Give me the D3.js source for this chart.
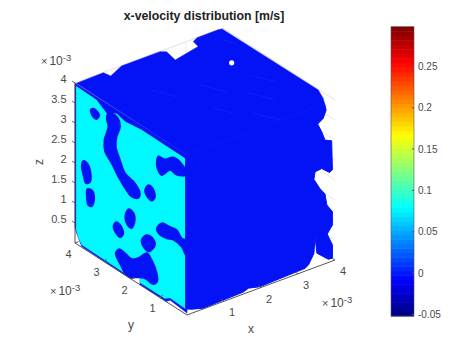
<!DOCTYPE html>
<html>
<head>
<meta charset="utf-8">
<script src="https://d3js.org/d3.v7.min.js"></script>
<style>
  html, body { margin: 0; padding: 0; background: #fff; }
  text { font-family: "Liberation Sans", Arial, sans-serif; fill: #4a4a4a; }
</style>
</head>
<body>
<div id="chart"></div>
<script>
// axis ticks, all lengths are in units of 1e-3
var xTicks = [1, 2, 3, 4];
var yTicks = [1, 2, 3, 4];
var zTicks = [0.5, 1, 1.5, 2, 2.5, 3, 3.5, 4];
var barTicks = [-0.05, 0, 0.05, 0.1, 0.15, 0.2, 0.25];
var barRange = [-0.052, 0.298];

// jet colormap stops (fraction of colour range -> colour)
var jetStops = [0, 0.125, 0.375, 0.625, 0.875, 1];
var jetColors = ["#00007f", "#0000ff", "#00ffff", "#ffff00", "#ff0000", "#7f0000"];
var jetSteps = d3.range(64);

// top face (z = 4), [x, y]
var topFace = [[0.02,3.97],[0.76,3.99],[0.80,3.78],[1.25,3.99],[2.29,3.99],[2.40,3.90],[2.33,3.50],[3.08,3.67],
    [3.13,3.91],[3.30,4.0],[3.87,4.0],[3.96,3.98],[3.98,0.57],[3.84,0.21],[3.72,0],[0,0]];
var topHole = [3.22, 2.66];
// faint lighter streaks on the top face, [x1, y1, x2, y2]
var topStreaks = [[2.25,0.62,2.53,0.04],[2.09,2.29,2.37,1.70],[3.68,3.58,3.82,3.29],[1.10,2.77,1.38,2.18],
    [2.70,1.40,2.98,0.82],[3.20,2.00,3.48,1.42],[1.70,1.30,1.90,0.90]];

// front right face (y = 0), [x, z]
var rightFace = [[0,4],[3.72,4],[3.76,3.83],[3.68,3.65],[3.53,3.56],[3.64,3.33],[3.73,3.09],[3.91,3.01],[3.93,2.28],
    [3.85,2.24],[3.64,2.41],[3.46,2.39],[3.43,2.21],[3.59,1.93],[3.73,1.74],[3.78,1.45],[3.93,1.23],[3.93,0.90],
    [3.79,0.72],[3.93,0.40],[3.93,0.07],[3.82,0.08],[3.51,0.34],[3.46,0.77],[3.43,0.36],[3.28,0.12],[3.19,0.07],
    [1.97,0.03],[1.66,0.10],[1.52,0.05],[0.44,0.02],[0.13,0.10],[0,0.15]];

// left face (x = 0), [y, z]
var leftBlue = [[4,4],[0,4],[0,0.05],[0.6,0.1],[0.75,0],[1.68,0],[1.68,0.19],[2.04,0],[3.76,0.02],[3.89,0.2],[3.96,0.3],[4,0.4]];
var leftCyan = [[3.96,3.94],[3.23,3.93],[2.87,3.75],[2.51,3.91],[2.21,3.84],[1.62,3.90],[0.07,3.89],[0.07,0.18],[0.05,0.13],
    [0.61,0.15],[0.79,0.05],[1.68,0.05],[1.68,0.19],[2.04,0.04],[3.76,0.06],[3.89,0.20],[3.96,0.34]];

// low velocity patches on the left face, [y, z]
var leftBlobs = [
    [[3.44,3.58],[3.32,3.66],[3.13,3.59],[3.23,3.44],[3.35,3.44]],
    [[2.81,3.78],[2.51,3.83],[2.39,3.63],[2.51,3.33],[2.54,3.07],[2.39,2.80],[2.21,2.55],[1.86,2.46],[1.68,2.29],[1.74,2.14],
     [1.98,2.07],[2.21,2.17],[2.45,2.35],[2.69,2.58],[2.93,2.77],[2.95,3.05],[2.81,3.44],[2.87,3.63]],
    [[1.03,3.50],[0.79,3.54],[0.49,3.72],[0.25,3.72],[0.05,3.59],[0.05,3.47],[0.37,3.34],[0.61,3.35],[0.90,3.09],[1.06,3.19],[1.08,3.35]],
    [[3.70,2.19],[3.56,2.19],[3.44,2.00],[3.46,1.77],[3.61,1.67],[3.70,1.83],[3.76,2.03]],
    [[3.56,1.55],[3.40,1.59],[3.31,1.44],[3.40,1.19],[3.53,1.16],[3.58,1.34]],
    [[1.38,2.63],[1.23,2.62],[1.14,2.44],[1.26,2.29],[1.42,2.32],[1.50,2.45]],
    [[2.10,1.70],[1.94,1.71],[1.86,1.54],[1.98,1.28],[2.13,1.29],[2.21,1.46]],
    [[2.54,1.18],[2.39,1.18],[2.27,1.02],[2.39,0.87],[2.57,0.93],[2.63,1.03]],
    [[1.44,1.35],[1.23,1.37],[1.14,1.24],[1.35,0.98],[1.56,1.01],[1.62,1.15]],
    [[1.08,1.68],[0.90,1.89],[0.61,1.93],[0.37,1.96],[0.19,1.83],[0.04,1.84],[0.04,1.47],[0.19,1.62],[0.49,1.66],[0.72,1.59],[0.96,1.57]],
    [[2.42,0.56],[2.21,0.55],[1.98,0.51],[1.74,0.64],[1.44,0.90],[1.26,0.81],[1.08,0.56],[1.06,0.37],[1.20,0.23],[1.50,0.24],
     [1.68,0.18],[2.04,0.03],[2.21,0.05],[2.39,0.20],[2.55,0.40]]
];

var width = 474, height = 355;

// oblique projection of the box, one scale per screen shift
var origin = [187, 315];
var xToSx = d3.scaleLinear().domain([0, 4]).range([0, 148]);
var xToSy = d3.scaleLinear().domain([0, 4]).range([0, -55]);
var yToSx = d3.scaleLinear().domain([0, 4]).range([0, -112]);
var yToSy = d3.scaleLinear().domain([0, 4]).range([0, -72]);
var zToSy = d3.scaleLinear().domain([0, 4]).range([0, -160]);

function project(x, y, z) {
    return [origin[0] + xToSx(x) + yToSx(y), origin[1] + xToSy(x) + yToSy(y) + zToSy(z)];
}

var polyLine = d3.line();
var blobLine = d3.line().curve(d3.curveCatmullRomClosed.alpha(0.5));

var svg = d3.select("#chart").append("svg")
    .attr("width", width)
    .attr("height", height)
    .style("display", "block");

// grid on the back walls
var grid = svg.append("g").attr("stroke", "#e4e4e4").attr("stroke-width", 0.8).attr("fill", "none");
function gridLine(a, b) {
    grid.append("path").attr("d", polyLine([a, b]));
}
zTicks.forEach(function (z) {
    gridLine(project(0, 4, z), project(4, 4, z));
    gridLine(project(4, 4, z), project(4, 0, z));
});
xTicks.forEach(function (x) {
    gridLine(project(x, 4, 0), project(x, 4, 4));
});
yTicks.forEach(function (y) {
    gridLine(project(4, y, 0), project(4, y, 4));
});
gridLine(project(0, 4, 4), project(4, 4, 4));
gridLine(project(4, 4, 4), project(4, 0, 4));

// coloured faces, all one blue so no seam shows between them
var blue = "#0413f5";
var cyan = "#00f8ff";
svg.append("path").attr("fill", blue).attr("stroke", blue).attr("stroke-width", 0.5)
    .attr("d", polyLine(leftBlue.map(function (d) { return project(0, d[0], d[1]); })) + "Z");
svg.append("path").attr("fill", cyan)
    .attr("d", polyLine(leftCyan.map(function (d) { return project(0, d[0], d[1]); })) + "Z");
svg.selectAll(".blob")
    .data(leftBlobs)
    .enter().append("path")
    .attr("class", "blob")
    .attr("fill", blue)
    .attr("stroke", blue)
    .attr("stroke-width", 1.6)
    .attr("d", function (b) { return blobLine(b.map(function (d) { return project(0, d[0], d[1]); })); });
svg.append("path").attr("fill", blue).attr("stroke", blue).attr("stroke-width", 0.5)
    .attr("d", polyLine(topFace.map(function (d) { return project(d[0], d[1], 4); })) + "Z");
svg.append("path").attr("fill", blue).attr("stroke", blue).attr("stroke-width", 1)
    .attr("d", polyLine(rightFace.map(function (d) { return project(d[0], 0, d[1]); })) + "Z");
svg.selectAll(".streak")
    .data(topStreaks)
    .enter().append("path")
    .attr("class", "streak")
    .attr("fill", "none")
    .attr("stroke", "#2f55f0")
    .attr("stroke-opacity", 0.22)
    .attr("d", function (d) { return polyLine([project(d[0], d[1], 4), project(d[2], d[3], 4)]); });
svg.append("circle")
    .attr("cx", project(topHole[0], topHole[1], 4)[0])
    .attr("cy", project(topHole[0], topHole[1], 4)[1])
    .attr("r", 2.6)
    .attr("fill", "#fff");

// box axes
var axisColor = "#555";
var axes = svg.append("g").attr("stroke", axisColor).attr("fill", "none").attr("stroke-width", 1);
axes.append("path").attr("d", polyLine([project(0, 4, 4), project(0, 4, 0), project(0, 0, 0), project(4, 0, 0)]));
zTicks.forEach(function (z) {
    axes.append("path").attr("d", polyLine([project(0, 4, z), project(0, 4.1, z)]));
});
yTicks.forEach(function (y) {
    axes.append("path").attr("d", polyLine([project(0, y, 0), project(0.1, y, 0)]));
});
xTicks.forEach(function (x) {
    axes.append("path").attr("d", polyLine([project(x, 0, 0), project(x, 0.1, 0)]));
});

// tick labels
svg.selectAll(".zlab").data(zTicks).enter().append("text")
    .attr("class", "zlab")
    .attr("x", 66.5)
    .attr("y", function (d) { return project(0, 4, d)[1]; })
    .attr("text-anchor", "end")
    .style("font-size", "11px")
    .text(function (d) { return d; });
svg.selectAll(".ylab").data(yTicks).enter().append("text")
    .attr("class", "ylab")
    .attr("x", function (d) { return project(0, d, 0)[0] - 6.5; })
    .attr("y", function (d) { return project(0, d, 0)[1] + 15; })
    .attr("text-anchor", "middle")
    .style("font-size", "11px")
    .text(function (d) { return d; });
svg.selectAll(".xlab").data(xTicks).enter().append("text")
    .attr("class", "xlab")
    .attr("x", function (d) { return project(d, 0, 0)[0] + 8; })
    .attr("y", function (d) { return project(d, 0, 0)[1] + 15; })
    .attr("text-anchor", "middle")
    .style("font-size", "11px")
    .text(function (d) { return d; });

// exponent labels
function exponent(x, y) {
    var t = svg.append("text").attr("x", x).attr("y", y).style("font-size", "12px");
    t.append("tspan").text("\u00d7").style("font-size", "11px");
    t.append("tspan").attr("dx", 2).text("10");
    t.append("tspan").attr("dy", -4).style("font-size", "9.5px").text("-3");
}
exponent(41, 65);
exponent(50, 295);
exponent(322, 307);

// axis names
svg.append("text").attr("x", 251).attr("y", 333).attr("text-anchor", "middle").style("font-size", "12px").text("x");
svg.append("text").attr("x", 131).attr("y", 329).attr("text-anchor", "middle").style("font-size", "12px").text("y");
svg.append("text")
    .attr("transform", "translate(43,162) rotate(-90)")
    .attr("text-anchor", "middle")
    .style("font-size", "12px")
    .text("z");

// title
svg.append("text")
    .attr("x", 204)
    .attr("y", 20)
    .attr("text-anchor", "middle")
    .style("font-size", "12.3px")
    .style("font-weight", "bold")
    .style("fill", "#222")
    .text("x-velocity distribution [m/s]");

// colorbar
var barY = d3.scaleLinear().domain(barRange).range([316, 26.7]);
var barLeft = 391, barWidth = 23;
var jet = d3.scaleLinear().domain(jetStops).range(jetColors);
var stepValue = (barRange[1] - barRange[0]) / jetSteps.length;

svg.selectAll(".step").data(jetSteps).enter().append("rect")
    .attr("class", "step")
    .attr("x", barLeft)
    .attr("width", barWidth)
    .attr("y", function (d) { return barY(barRange[0] + (d + 1) * stepValue); })
    .attr("height", function (d) { return barY(barRange[0] + d * stepValue) - barY(barRange[0] + (d + 1) * stepValue) + 0.5; })
    .attr("fill", function (d) { return jet((d + 0.5) / jetSteps.length); });

svg.append("rect")
    .attr("x", barLeft).attr("y", barY(barRange[1]))
    .attr("width", barWidth).attr("height", barY(barRange[0]) - barY(barRange[1]))
    .attr("fill", "none").attr("stroke", "#555").attr("stroke-width", 0.6);

svg.selectAll(".btick").data(barTicks).enter().append("line")
    .attr("class", "btick")
    .attr("x1", barLeft + barWidth - 2).attr("x2", barLeft + barWidth)
    .attr("y1", function (d) { return barY(d); })
    .attr("y2", function (d) { return barY(d); })
    .attr("stroke", "#555");

svg.selectAll(".blab").data(barTicks).enter().append("text")
    .attr("class", "blab")
    .attr("x", barLeft + barWidth + 4)
    .attr("y", function (d) { return barY(d) + 3.5; })
    .style("font-size", "10px")
    .text(function (d) { return d; });
</script>
</body>
</html>
